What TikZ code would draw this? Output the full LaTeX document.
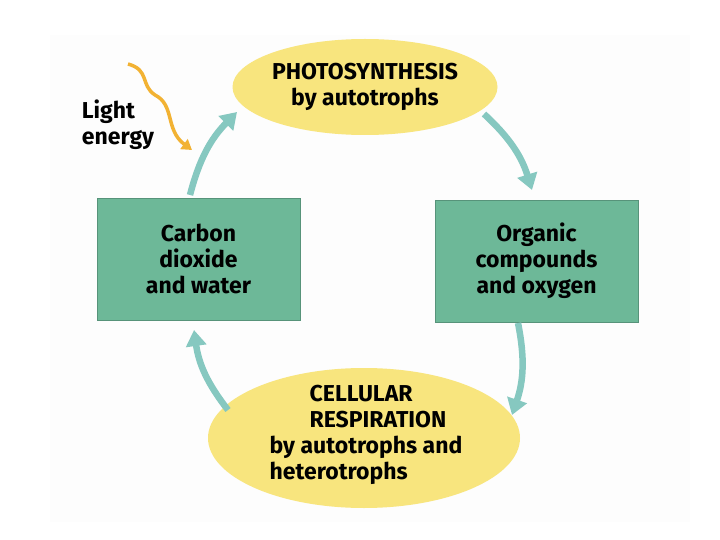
\documentclass[tikz,border=0pt]{standalone}
\usepackage{fontspec}
\setmainfont{Fira Sans}
\usetikzlibrary{arrows.meta}
\definecolor{ylw}{HTML}{F8E57E}
\definecolor{grn}{HTML}{6DB898}
\definecolor{arr}{HTML}{86C8C0}
\definecolor{org}{HTML}{F2B233}
\tikzset{
 tx/.style={font=\bfseries\fontsize{23}{26}\selectfont},
 box/.style={rectangle,fill=grn,draw=grn!80!black,line width=0.4pt,tx,align=center,minimum width=203pt,minimum height=122pt},
 cyc/.style={line width=6.5pt,arr,-{Triangle[length=16pt,width=20pt]}},
}
\begin{document}
\begin{tikzpicture}[x=1pt,y=-1pt]
\useasboundingbox (0,0) rectangle (720,540);
\fill[black!0.8] (50,35) rectangle (690,522);
\fill[ylw] (365,87) ellipse (132.5 and 48);
\node[tx,align=center] (ps) at (365,87) {PHOTOSYNTHESIS\\by autotrophs};
\fill[ylw] (364,438) ellipse (156 and 70);
\node[tx,align=left] (cr) at (366,435) {\hspace*{40pt}CELLULAR\\\hspace*{40pt}RESPIRATION\\by autotrophs and\\heterotrophs};
\node[box] (cd) at (198.5,259) {Carbon\\dioxide\\and water};
\node[box] (oc) at (536.5,261) {Organic\\compounds\\and oxygen};
\node[tx,align=left] (le) at (118,125) {Light\\energy};
\coordinate (a1) at (484,114); \coordinate (a2) at (532,190);
\coordinate (b1) at (518,323); \coordinate (b2) at (512,415);
\coordinate (c1) at (228,410); \coordinate (c2) at (194,330);
\coordinate (d1) at (190,195); \coordinate (d2) at (237,112);
\draw[cyc] (a1) to[bend left=15] (a2);
\draw[cyc] (b1) to[bend left=15] (b2);
\draw[cyc] (c1) to[bend left=15] (c2);
\draw[cyc] (d1) to[bend left=15] (d2);
\coordinate (l1) at (128,64); \coordinate (l2) at (192,150);
\draw[org,line width=3.5pt,-{Triangle[length=10pt,width=12pt]}] (l1) .. controls (150,70) and (140,85) .. (155,95) .. controls (175,105) and (165,130) .. (l2);
\end{tikzpicture}
\end{document}
